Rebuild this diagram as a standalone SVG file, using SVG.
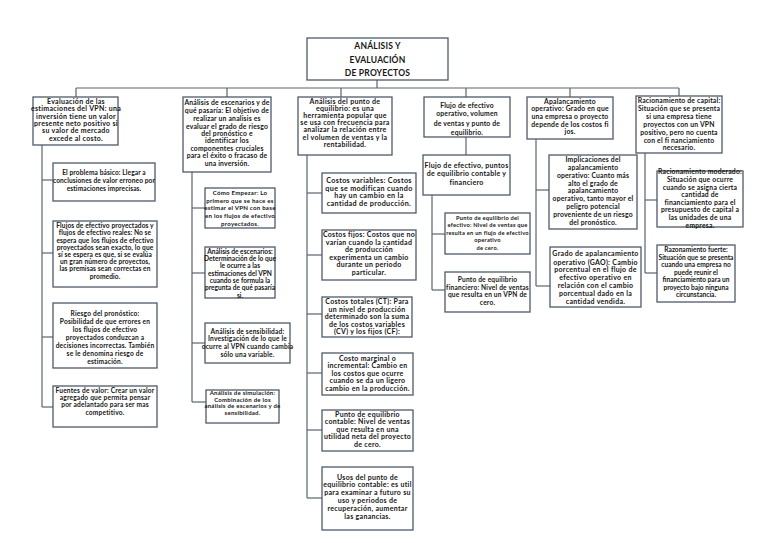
<svg xmlns="http://www.w3.org/2000/svg" width="768" height="543" viewBox="0 0 768 543">
<style>
.bx{fill:#fff;stroke:#4f5a68;stroke-width:1.3}
.t{font-family:Lato,"Liberation Sans",sans-serif;font-weight:bold;font-size:6.4px;fill:#151515;text-anchor:middle;dominant-baseline:central}
.ttl{font-size:8.5px;letter-spacing:0.2px}
.f55{font-size:5.7px;letter-spacing:0.25px}
.f59{font-size:6px;letter-spacing:0.25px}
.f60{font-size:6.1px;letter-spacing:0.25px}
.f64{font-size:6.6px;letter-spacing:0}
.f65{font-size:6.6px;letter-spacing:0.1px}
.f66{font-size:6.6px;letter-spacing:0.2px}
.f68{font-size:6.8px;letter-spacing:0.2px}
.f70{font-size:7px;letter-spacing:0.3px}
.f72{font-size:7.2px;letter-spacing:0.35px}
#connectors line{stroke:#5a6470;stroke-width:1.2;fill:none}
</style>
<rect width="768" height="543" fill="#fff"/>
<g id="connectors">
<line x1="377" y1="80" x2="377" y2="88"/>
<line x1="76" y1="88" x2="679" y2="88"/>
<line x1="76" y1="88" x2="76" y2="97"/>
<line x1="227" y1="88" x2="227" y2="97"/>
<line x1="341" y1="88" x2="341" y2="97"/>
<line x1="466" y1="88" x2="466" y2="97"/>
<line x1="570" y1="88" x2="570" y2="97"/>
<line x1="679" y1="88" x2="679" y2="96"/>
<line x1="42" y1="145" x2="42" y2="407"/>
<line x1="42" y1="180" x2="53" y2="180"/>
<line x1="42" y1="253" x2="53" y2="253"/>
<line x1="42" y1="337" x2="53" y2="337"/>
<line x1="42" y1="407" x2="53" y2="407"/>
<line x1="192" y1="172" x2="192" y2="402"/>
<line x1="192" y1="208" x2="205" y2="208"/>
<line x1="192" y1="273" x2="205" y2="273"/>
<line x1="192" y1="343" x2="205" y2="343"/>
<line x1="192" y1="402" x2="206" y2="402"/>
<line x1="307" y1="155" x2="307" y2="498"/>
<line x1="307" y1="193" x2="322" y2="193"/>
<line x1="307" y1="255" x2="322" y2="255"/>
<line x1="307" y1="314" x2="322" y2="314"/>
<line x1="307" y1="373" x2="322" y2="373"/>
<line x1="307" y1="430" x2="322" y2="430"/>
<line x1="307" y1="498" x2="322" y2="498"/>
<line x1="466" y1="137" x2="466" y2="155"/>
<line x1="432" y1="195" x2="432" y2="290"/>
<line x1="432" y1="234" x2="445" y2="234"/>
<line x1="432" y1="290" x2="445" y2="290"/>
<line x1="536" y1="139" x2="536" y2="286"/>
<line x1="536" y1="190" x2="549" y2="190"/>
<line x1="536" y1="286" x2="550" y2="286"/>
<line x1="645" y1="153" x2="645" y2="273"/>
<line x1="645" y1="200" x2="657" y2="200"/>
<line x1="645" y1="273" x2="657" y2="273"/>
</g>

<g id="titulo">
<rect class="bx" x="307" y="38" width="141" height="42"/>
<text class="t ttl"><tspan x="377.5" y="46">ANÁLISIS Y</tspan><tspan x="377.5" y="59.5">EVALUACIÓN</tspan><tspan x="377.5" y="73">DE PROYECTOS</tspan></text>
</g>

<g id="evaluacion-vpn">
<rect class="bx" x="33" y="97" width="85" height="48"/>
<text class="t f70"><tspan x="76" y="100.5">Evaluación de las</tspan><tspan x="76" y="108">estimaciones del VPN: una</tspan><tspan x="76" y="115.5">inversión tiene un valor</tspan><tspan x="76" y="122.8">presente neto positivo si</tspan><tspan x="76" y="130.2">su valor de mercado</tspan><tspan x="76" y="137.6">excede al costo.</tspan></text>
</g>
<g id="problema-basico">
<rect class="bx" x="53" y="163" width="102" height="38"/>
<text class="t f65"><tspan x="104" y="172">El problema básico: Llegar a</tspan><tspan x="104" y="180">conclusiones de valor erroneo por</tspan><tspan x="104" y="187.8">estimaciones imprecisas.</tspan></text>
</g>
<g id="flujos-proyectados">
<rect class="bx" x="53" y="221" width="104" height="66"/>
<text class="t f65"><tspan x="105" y="225">Flujos de efectivo proyectados y</tspan><tspan x="105" y="232.3">flujos de efectivo reales: No se</tspan><tspan x="105" y="239.5">espera que los flujos de efectivo</tspan><tspan x="105" y="246.7">proyectados sean exacto, lo que</tspan><tspan x="105" y="253.9">sí se espera es que, si se evalúa</tspan><tspan x="105" y="261.1">un gran número de proyectos,</tspan><tspan x="105" y="268.4">las premisas sean correctas en</tspan><tspan x="105" y="276">promedio.</tspan></text>
</g>
<g id="riesgo-pronostico">
<rect class="bx" x="53" y="303" width="104" height="65"/>
<text class="t f66"><tspan x="105" y="313.3">Riesgo del pronóstico:</tspan><tspan x="105" y="321">Posibilidad de que errores en</tspan><tspan x="105" y="329">los flujos de efectivo</tspan><tspan x="105" y="337">proyectados conduzcan a</tspan><tspan x="105" y="345">decisiones incorrectas. También</tspan><tspan x="105" y="352.7">se le denomina riesgo de</tspan><tspan x="105" y="360.5">estimación.</tspan></text>
</g>
<g id="fuentes-valor">
<rect class="bx" x="53" y="386" width="104" height="41"/>
<text class="t f66"><tspan x="105" y="389.5">Fuentes de valor: Crear un valor</tspan><tspan x="105" y="396.8">agregado que permita pensar</tspan><tspan x="105" y="404.1">por adelantado para ser mas</tspan><tspan x="105" y="411.5">competitivo.</tspan></text>
</g>

<g id="escenarios">
<rect class="bx" x="183" y="97" width="88" height="75"/>
<text class="t f68"><tspan x="227" y="101.7">Análisis de escenarios y de</tspan><tspan x="227" y="110.3">qué pasaría: El objetivo de</tspan><tspan x="227" y="118">realizar un analisis es</tspan><tspan x="227" y="125.5">evaluar el grado de riesgo</tspan><tspan x="227" y="132.9">del pronóstico e</tspan><tspan x="227" y="140.2">identificar los</tspan><tspan x="227" y="147.6">componentes cruciales</tspan><tspan x="227" y="155.1">para el éxito o fracaso de</tspan><tspan x="227" y="162.7">una inversión.</tspan></text>
</g>
<g id="como-empezar">
<rect class="bx" x="205" y="188" width="70" height="40"/>
<text class="t f60"><tspan x="240" y="192">Cómo Empezar: Lo</tspan><tspan x="240" y="199.5">primero que se hace es</tspan><tspan x="240" y="207.3">estimar el VPN con base</tspan><tspan x="240" y="215">en los flujos de efectivo</tspan><tspan x="240" y="222.7">proyectados.</tspan></text>
</g>
<g id="analisis-escenarios">
<rect class="bx" x="205" y="247" width="70" height="51"/>
<text class="t f64"><tspan x="240" y="250.5">Análisis de escenarios:</tspan><tspan x="240" y="257.8">Determinación de lo que</tspan><tspan x="240" y="265.1">le ocurre a las</tspan><tspan x="240" y="272.5">estimaciones del VPN</tspan><tspan x="240" y="280">cuando se formula la</tspan><tspan x="240" y="287.4">pregunta de qué pasaría</tspan><tspan x="240" y="294.8">si.</tspan></text>
</g>
<g id="sensibilidad">
<rect class="bx" x="205" y="323" width="85" height="40"/>
<text class="t f66"><tspan x="247.5" y="330.7">Análisis de sensibilidad:</tspan><tspan x="247.5" y="338.3">Investigación de lo que le</tspan><tspan x="247.5" y="346">ocurre al VPN cuando cambia</tspan><tspan x="247.5" y="353.6">sólo una variable.</tspan></text>
</g>
<g id="simulacion">
<rect class="bx" x="206" y="390" width="73" height="33"/>
<text class="t f59"><tspan x="242.5" y="392">Análisis de simulación:</tspan><tspan x="242.5" y="398.7">Combinación de los</tspan><tspan x="242.5" y="405.3">análisis de escenarios y de</tspan><tspan x="242.5" y="412">sensibilidad.</tspan></text>
</g>

<g id="punto-equilibrio">
<rect class="bx" x="298" y="97" width="94" height="58"/>
<text class="t f70"><tspan x="345" y="100.5">Análisis del punto de</tspan><tspan x="345" y="107.8">equilibrio: es una</tspan><tspan x="345" y="115">herramienta popular que</tspan><tspan x="345" y="122.2">se usa con frecuencia para</tspan><tspan x="345" y="129.4">analizar la relación entre</tspan><tspan x="345" y="136.6">el volumen de ventas y la</tspan><tspan x="345" y="143.8">rentabilidad.</tspan></text>
</g>
<g id="costos-variables">
<rect class="bx" x="322" y="173" width="94" height="40"/>
<text class="t f72"><tspan x="369" y="180">Costos variables: Costos</tspan><tspan x="369" y="187.6">que se modifican cuando</tspan><tspan x="369" y="195.3">hay un cambio en la</tspan><tspan x="369" y="203.3">cantidad de producción.</tspan></text>
</g>
<g id="costos-fijos">
<rect class="bx" x="322" y="230" width="94" height="50"/>
<text class="t f70"><tspan x="369" y="234.3">Costos fijos: Costos que no</tspan><tspan x="369" y="241.8">varían cuando la cantidad</tspan><tspan x="369" y="249.3">de producción</tspan><tspan x="369" y="256.8">experimenta un cambio</tspan><tspan x="369" y="264.2">durante un periodo</tspan><tspan x="369" y="271.7">particular.</tspan></text>
</g>
<g id="costos-totales">
<rect class="bx" x="322" y="297" width="90" height="40"/>
<text class="t f70"><tspan x="367" y="301">Costos totales (CT): Para</tspan><tspan x="367" y="308.5">un nivel de producción</tspan><tspan x="367" y="316">determinado son la suma</tspan><tspan x="367" y="323.5">de los costos variables</tspan><tspan x="367" y="331">(CV) y los fijos (CF):</tspan></text>
</g>
<g id="costo-marginal">
<rect class="bx" x="322" y="353" width="91" height="42"/>
<text class="t f70"><tspan x="367.5" y="357.7">Costo marginal o</tspan><tspan x="367.5" y="365.2">incremental: Cambio en</tspan><tspan x="367.5" y="372.7">los costos que ocurre</tspan><tspan x="367.5" y="380.2">cuando se da un ligero</tspan><tspan x="367.5" y="387.7">cambio en la producción.</tspan></text>
</g>
<g id="equilibrio-contable">
<rect class="bx" x="322" y="410" width="91" height="41"/>
<text class="t f70"><tspan x="367.5" y="413.5">Punto de equilibrio</tspan><tspan x="367.5" y="421">contable: Nivel de ventas</tspan><tspan x="367.5" y="428.6">que resulta en una</tspan><tspan x="367.5" y="436.2">utilidad neta del proyecto</tspan><tspan x="367.5" y="443.8">de cero.</tspan></text>
</g>
<g id="usos-equilibrio">
<rect class="bx" x="322" y="467" width="91" height="63"/>
<text class="t f70"><tspan x="367.5" y="476.7">Usos del punto de</tspan><tspan x="367.5" y="484.4">equilibrio contable:  es util</tspan><tspan x="367.5" y="492.2">para examinar a futuro su</tspan><tspan x="367.5" y="500">uso y periodos de</tspan><tspan x="367.5" y="507.8">recuperación, aumentar</tspan><tspan x="367.5" y="515.7">las ganancias.</tspan></text>
</g>

<g id="flujo-operativo">
<rect class="bx" x="424" y="97" width="86" height="40"/>
<text class="t f68"><tspan x="467" y="105">Flujo de efectivo</tspan><tspan x="467" y="113.3">operativo, volumen</tspan><tspan x="467" y="123.3">de ventas y punto de</tspan><tspan x="467" y="131.5">equilibrio.</tspan></text>
</g>
<g id="flujo-puntos">
<rect class="bx" x="423" y="155" width="87" height="40"/>
<text class="t f70"><tspan x="466.5" y="165">Flujo de efectivo, puntos</tspan><tspan x="466.5" y="173.3">de equilibrio contable y</tspan><tspan x="466.5" y="181.7">financiero</tspan></text>
</g>
<g id="equilibrio-efectivo">
<rect class="bx" x="445" y="213" width="85" height="41"/>
<text class="t f55"><tspan x="487.5" y="216.7">Punto de equilibrio del</tspan><tspan x="487.5" y="224.3">efectivo: Nivel de ventas que</tspan><tspan x="487.5" y="231.7">resulta en un flujo de efectivo</tspan><tspan x="487.5" y="239.3">operativo</tspan><tspan x="487.5" y="247.3">de cero.</tspan></text>
</g>
<g id="equilibrio-financiero">
<rect class="bx" x="445" y="272" width="85" height="40"/>
<text class="t f66"><tspan x="487.5" y="279.3">Punto de equilibrio</tspan><tspan x="487.5" y="286.7">financiero: Nivel de ventas</tspan><tspan x="487.5" y="294.1">que resulta en un VPN de</tspan><tspan x="487.5" y="301.7">cero.</tspan></text>
</g>

<g id="apalancamiento">
<rect class="bx" x="527" y="97" width="86" height="42"/>
<text class="t f68"><tspan x="570" y="100.7">Apalancamiento</tspan><tspan x="570" y="108.3">operativo: Grado en que</tspan><tspan x="570" y="116">una empresa o proyecto</tspan><tspan x="570" y="123.5">depende de los costos fi</tspan><tspan x="570" y="131">jos.</tspan></text>
</g>
<g id="implicaciones">
<rect class="bx" x="549" y="155" width="88" height="74"/>
<text class="t f68"><tspan x="593" y="159.3">Implicaciones del</tspan><tspan x="593" y="167.3">apalancamiento</tspan><tspan x="593" y="175">operativo: Cuanto más</tspan><tspan x="593" y="182.7">alto el grado de</tspan><tspan x="593" y="190.3">apalancamiento</tspan><tspan x="593" y="198.3">operativo, tanto mayor el</tspan><tspan x="593" y="206">peligro potencial</tspan><tspan x="593" y="214">proveniente de un riesgo</tspan><tspan x="593" y="221.7">del pronóstico.</tspan></text>
</g>
<g id="gao">
<rect class="bx" x="550" y="247" width="91" height="60"/>
<text class="t f70"><tspan x="595.5" y="253.3">Grado de apalancamiento</tspan><tspan x="595.5" y="261.5">operativo (GAO): Cambio</tspan><tspan x="595.5" y="269.3">porcentual en el flujo de</tspan><tspan x="595.5" y="277.3">efectivo operativo en</tspan><tspan x="595.5" y="285">relación con el cambio</tspan><tspan x="595.5" y="292.8">porcentual dado en la</tspan><tspan x="595.5" y="300.7">cantidad vendida.</tspan></text>
</g>

<g id="racionamiento">
<rect class="bx" x="636" y="96" width="86" height="57"/>
<text class="t f68"><tspan x="679" y="100">Racionamiento de capital:</tspan><tspan x="679" y="108.3">Situación que se presenta</tspan><tspan x="679" y="116">si una empresa tiene</tspan><tspan x="679" y="123.7">proyectos con un VPN</tspan><tspan x="679" y="131.7">positivo, pero no cuenta</tspan><tspan x="679" y="139.7">con el fi nanciamiento</tspan><tspan x="679" y="147.3">necesario.</tspan></text>
</g>
<g id="racionamiento-moderado">
<rect class="bx" x="657" y="171" width="86" height="56"/>
<text class="t f68"><tspan x="700" y="171">Racionamiento moderado:</tspan><tspan x="700" y="178.7">Situación que ocurre</tspan><tspan x="700" y="186.7">cuando se asigna cierta</tspan><tspan x="700" y="194.3">cantidad de</tspan><tspan x="700" y="201.9">financiamiento para el</tspan><tspan x="700" y="209.4">presupuesto de capital a</tspan><tspan x="700" y="216.9">las unidades de una</tspan><tspan x="700" y="224.5">empresa.</tspan></text>
</g>
<g id="razonamiento-fuerte">
<rect class="bx" x="657" y="245" width="78" height="57"/>
<text class="t f64"><tspan x="696" y="249.3">Razonamiento fuerte:</tspan><tspan x="696" y="256.7">Situación que se presenta</tspan><tspan x="696" y="264.1">cuando una empresa no</tspan><tspan x="696" y="271.7">puede reunir el</tspan><tspan x="696" y="279.3">financiamiento para un</tspan><tspan x="696" y="286.7">proyecto bajo ninguna</tspan><tspan x="696" y="294">circunstancia.</tspan></text>
</g>
</svg>
